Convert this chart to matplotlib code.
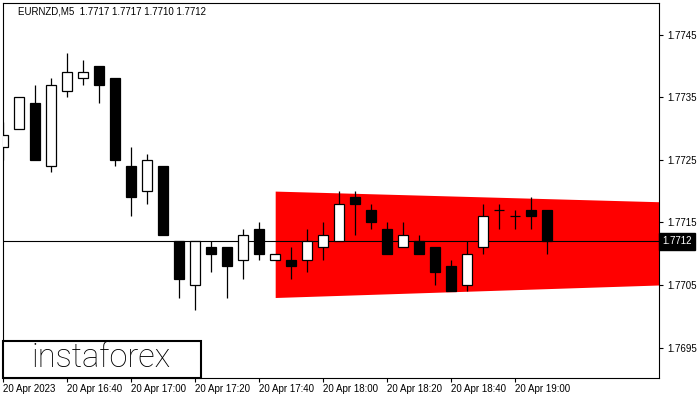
import matplotlib
matplotlib.use("Agg")
import matplotlib.pyplot as plt
from matplotlib.patches import Rectangle
import numpy as np

# ---- data (EURNZD M5, 20 Apr 2023, 16:20 .. 19:10) ----
opens  = [1.7727, 1.7730, 1.7734, 1.7724, 1.7736, 1.7738, 1.7740, 1.7738, 1.7724, 1.7720,
          1.7724, 1.7712, 1.7705, 1.7711, 1.7711, 1.7709, 1.7714, 1.7709, 1.7709, 1.7709,
          1.7711, 1.7712, 1.7719, 1.7717, 1.7714, 1.7711, 1.7712, 1.7711, 1.7708, 1.7705,
          1.7711, 1.7717, 1.7716, 1.7717, 1.7717]
highs  = [1.7731, 1.7735, 1.7737, 1.7738, 1.7742, 1.7741, 1.7740, 1.7738, 1.7727, 1.7726,
          1.7724, 1.7712, 1.7712, 1.7712, 1.7711, 1.7714, 1.7715, 1.7710, 1.7711, 1.7714,
          1.7715, 1.7720, 1.7720, 1.7718, 1.7715, 1.7715, 1.7713, 1.7711, 1.7709, 1.7712,
          1.7718, 1.7718, 1.7717, 1.7719, 1.7717]
lows   = [1.7725, 1.7730, 1.7725, 1.7723, 1.7735, 1.7737, 1.7734, 1.7724, 1.7716, 1.7718,
          1.7713, 1.7703, 1.7701, 1.7707, 1.7703, 1.7706, 1.7709, 1.7709, 1.7706, 1.7707,
          1.7709, 1.7712, 1.7713, 1.7714, 1.7710, 1.7711, 1.7710, 1.7705, 1.7704, 1.7704,
          1.7710, 1.7714, 1.7714, 1.7714, 1.7710]
closes = [1.7729, 1.7735, 1.7725, 1.7737, 1.7739, 1.7739, 1.7737, 1.7725, 1.7719, 1.7725,
          1.7713, 1.7706, 1.7712, 1.7710, 1.7708, 1.7713, 1.7710, 1.7710, 1.7708, 1.7712,
          1.7713, 1.7718, 1.7718, 1.7715, 1.7710, 1.7713, 1.7710, 1.7707, 1.7704, 1.7710,
          1.7716, 1.7717, 1.7716, 1.7716, 1.7712]

tick_idx = [0, 4, 8, 12, 16, 20, 24, 28, 32]
tick_labels = ["20 Apr 2023", "20 Apr 16:40", "20 Apr 17:00", "20 Apr 17:20", "20 Apr 17:40",
               "20 Apr 18:00", "20 Apr 18:20", "20 Apr 18:40", "20 Apr 19:00"]
y_ticks = [1.7695, 1.7705, 1.7715, 1.7725, 1.7735, 1.7745]

channel_x = [17, 41]
channel_top = [1.7720, 1.77183]
channel_bottom = [1.7703, 1.7705]

bid = 1.7712
title = "EURNZD,M5  1.7717 1.7717 1.7710 1.7712"

# ---- figure ----
W, H = 700, 400
fig = plt.figure(figsize=(7, 4), dpi=100)
fig.patch.set_facecolor("white")
ax = fig.add_axes([2.5 / W, (H - 377.5) / H, (659 - 2.5) / W, (377.5 - 3) / H])
ax.set_facecolor("white")
ax.set_xlim(-0.044, 40.99)
ax.set_ylim(1.769022, 1.775005)

FONT = "Liberation Sans"
FS = 7

# channel
ax.fill_between(channel_x, channel_bottom, channel_top, color="#ff0000", lw=0, zorder=1)

# bid line
ax.axhline(bid, color="black", lw=0.8, zorder=2)

# candles
bw = 0.62
x = np.arange(len(opens))
for i in x:
    o, h, l, c = opens[i], highs[i], lows[i], closes[i]
    ax.vlines(i, l, h, color="black", lw=0.9, zorder=3)
    if o == c:
        ax.hlines(o, i - bw / 2, i + bw / 2, color="black", lw=0.9, zorder=4)
    else:
        fc = "white" if c > o else "black"
        ax.add_patch(Rectangle((i - bw / 2, min(o, c)), bw, abs(c - o),
                               facecolor=fc, edgecolor="black", lw=0.9, zorder=4))

# axes styling
for s in ax.spines.values():
    s.set_linewidth(0.8)
    s.set_color("black")
ax.yaxis.tick_right()
ax.set_yticks(y_ticks)
ax.set_yticklabels([f"{v:.4f}" for v in y_ticks], fontsize=FS, family=FONT)
ax.tick_params(axis="y", direction="out", length=3, width=0.8, pad=3)
ax.set_xticks(tick_idx)
ax.set_xticklabels(tick_labels, fontsize=FS, family=FONT, ha="left")
ax.tick_params(axis="x", direction="out", length=3, width=0.8, pad=2)

# bid label on the price axis
ax.text(1.0045, bid, "1.7712", transform=ax.get_yaxis_transform(), fontsize=FS, family=FONT,
        color="white", va="center", ha="left",
        bbox=dict(boxstyle="square,pad=0.35", fc="black", ec="black"), clip_on=False, zorder=6)

# title
fig.text(18 / W, 1 - 11 / H, title, fontsize=FS, family=FONT, color="black", va="center", ha="left")

# instaforex logo box
fig.patches.append(Rectangle((3 / W, (H - 378) / H), 198 / W, 37 / H, transform=fig.transFigure,
                             facecolor="white", edgecolor="black", lw=1.5, zorder=10))
fig.text(101 / W, 1 - 358 / H, "instaforex", fontsize=23.5, family="Roboto", fontweight="light",
         color="black", va="center", ha="center", zorder=11)

fig.savefig("out.png", dpi=100)
